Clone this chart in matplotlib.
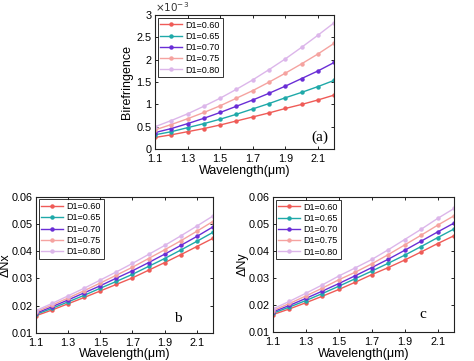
import matplotlib
matplotlib.use("Agg")
import matplotlib.pyplot as plt
import numpy as np

wavelength = [1.1, 1.2, 1.3, 1.4, 1.5, 1.6, 1.7, 1.8, 1.9, 2.0, 2.1, 2.2]
labels = ["D1=0.60", "D1=0.65", "D1=0.70", "D1=0.75", "D1=0.80"]
colors = ["#ef5b57", "#1fa9a9", "#6a2ed6", "#f5a3a0", "#dcb6ea"]

# Birefringence (x1e-3)
bire_060 = [0.26, 0.32, 0.39, 0.46, 0.54, 0.63, 0.72, 0.81, 0.91, 1.00, 1.10, 1.21]
bire_065 = [0.32, 0.39, 0.48, 0.57, 0.67, 0.78, 0.90, 1.02, 1.15, 1.27, 1.40, 1.54]
bire_070 = [0.37, 0.46, 0.57, 0.69, 0.82, 0.96, 1.10, 1.25, 1.41, 1.58, 1.75, 1.94]
bire_075 = [0.43, 0.55, 0.68, 0.82, 0.97, 1.14, 1.31, 1.50, 1.70, 1.91, 2.13, 2.37]
bire_080 = [0.50, 0.64, 0.79, 0.96, 1.14, 1.34, 1.55, 1.78, 2.02, 2.28, 2.55, 2.83]

# Delta Nx
dnx_060 = [0.0163, 0.0184, 0.0207, 0.0230, 0.0254, 0.0278, 0.0302, 0.0330, 0.0358, 0.0387, 0.0417, 0.0447]
dnx_065 = [0.0168, 0.0190, 0.0214, 0.0238, 0.0264, 0.0289, 0.0315, 0.0344, 0.0373, 0.0404, 0.0436, 0.0469]
dnx_070 = [0.0172, 0.0196, 0.0221, 0.0247, 0.0273, 0.0301, 0.0328, 0.0358, 0.0389, 0.0421, 0.0454, 0.0489]
dnx_075 = [0.0177, 0.0202, 0.0228, 0.0255, 0.0283, 0.0312, 0.0341, 0.0373, 0.0405, 0.0438, 0.0473, 0.0509]
dnx_080 = [0.0182, 0.0208, 0.0236, 0.0264, 0.0294, 0.0324, 0.0355, 0.0388, 0.0421, 0.0456, 0.0492, 0.0529]

# Delta Ny
dny_060 = [0.0165, 0.0186, 0.0209, 0.0233, 0.0258, 0.0285, 0.0313, 0.0339, 0.0367, 0.0397, 0.0428, 0.0457]
dny_065 = [0.0170, 0.0193, 0.0217, 0.0243, 0.0270, 0.0298, 0.0326, 0.0355, 0.0385, 0.0417, 0.0450, 0.0482]
dny_070 = [0.0175, 0.0199, 0.0225, 0.0252, 0.0280, 0.0309, 0.0339, 0.0370, 0.0403, 0.0437, 0.0471, 0.0504]
dny_075 = [0.0180, 0.0206, 0.0234, 0.0263, 0.0294, 0.0322, 0.0353, 0.0387, 0.0423, 0.0459, 0.0496, 0.0531]
dny_080 = [0.0186, 0.0214, 0.0244, 0.0275, 0.0308, 0.0338, 0.0369, 0.0405, 0.0443, 0.0481, 0.0521, 0.0558]

xticks = [1.1, 1.3, 1.5, 1.7, 1.9, 2.1]
bire_ticks = [0, 0.5, 1, 1.5, 2, 2.5, 3]
bire_ticklabels = ["0", "0.5", "1", "1.5", "2", "2.5", "3"]
dn_ticks = [0.01, 0.02, 0.03, 0.04, 0.05, 0.06]
dn_ticklabels = ["0.01", "0.02", "0.03", "0.04", "0.05", "0.06"]

plt.rcParams['font.family'] = ['Liberation Sans', 'DejaVu Sans']

fig = plt.figure(figsize=(4.74, 3.61), dpi=100)
ax_a = fig.add_axes([0.327, 0.587, 0.378, 0.371])
ax_b = fig.add_axes([0.076, 0.078, 0.373, 0.377])
ax_c = fig.add_axes([0.576, 0.080, 0.382, 0.374])

def style(ax):
    ax.set_xlim(1.1, 2.2)
    ax.set_xticks(xticks)
    ax.set_xticklabels([f"{t:.1f}" for t in xticks])
    ax.tick_params(direction='in', top=True, right=True, labelsize=7.8, length=2.5, width=0.6)
    ax.tick_params(axis='x', pad=3.5)
    ax.tick_params(axis='y', pad=2.5)
    for s in ax.spines.values():
        s.set_linewidth(0.8)
        s.set_color('#222222')
    ax.set_xlabel("Wavelength(μm)", fontsize=9, labelpad=0.5)
    leg = ax.legend(loc='upper left', fontsize=6.5, frameon=True, fancybox=False,
                    edgecolor='black', handlelength=2.4, handletextpad=0.4,
                    borderpad=0.3, labelspacing=0.25, borderaxespad=0.3)
    leg.get_frame().set_linewidth(0.7)

def draw(ax, series):
    for vals, lab, col in zip(series, labels, colors):
        ax.plot(wavelength, vals, color=col, lw=1.0, marker='o', ms=2.2, label=lab)

draw(ax_a, [bire_060, bire_065, bire_070, bire_075, bire_080])
ax_a.set_ylim(0, 3)
ax_a.set_yticks(bire_ticks)
ax_a.set_yticklabels(bire_ticklabels)
ax_a.set_ylabel("Birefringence", fontsize=9, labelpad=2)
style(ax_a)
ax_a.text(0.0, 1.01, r"$\times10^{-3}$", transform=ax_a.transAxes, ha='left', va='bottom',
          fontsize=7.5, color='#333333')
ax_a.text(0.97, 0.04, "(a)", transform=ax_a.transAxes, ha='right', va='bottom',
          fontsize=11, family='Liberation Serif')

draw(ax_b, [dnx_060, dnx_065, dnx_070, dnx_075, dnx_080])
ax_b.set_ylim(0.01, 0.06)
ax_b.set_yticks(dn_ticks)
ax_b.set_yticklabels(dn_ticklabels)
ax_b.set_ylabel("ΔNx", fontsize=9, labelpad=0)
style(ax_b)
ax_b.text(0.80, 0.06, "b", transform=ax_b.transAxes, ha='center', va='bottom',
          fontsize=11, family='Liberation Serif')

draw(ax_c, [dny_060, dny_065, dny_070, dny_075, dny_080])
ax_c.set_ylim(0.01, 0.06)
ax_c.set_yticks(dn_ticks)
ax_c.set_yticklabels(dn_ticklabels)
ax_c.set_ylabel("ΔNy", fontsize=9, labelpad=0)
style(ax_c)
ax_c.text(0.83, 0.08, "c", transform=ax_c.transAxes, ha='center', va='bottom',
          fontsize=11, family='Liberation Serif')

fig.savefig("out.png", dpi=100)
